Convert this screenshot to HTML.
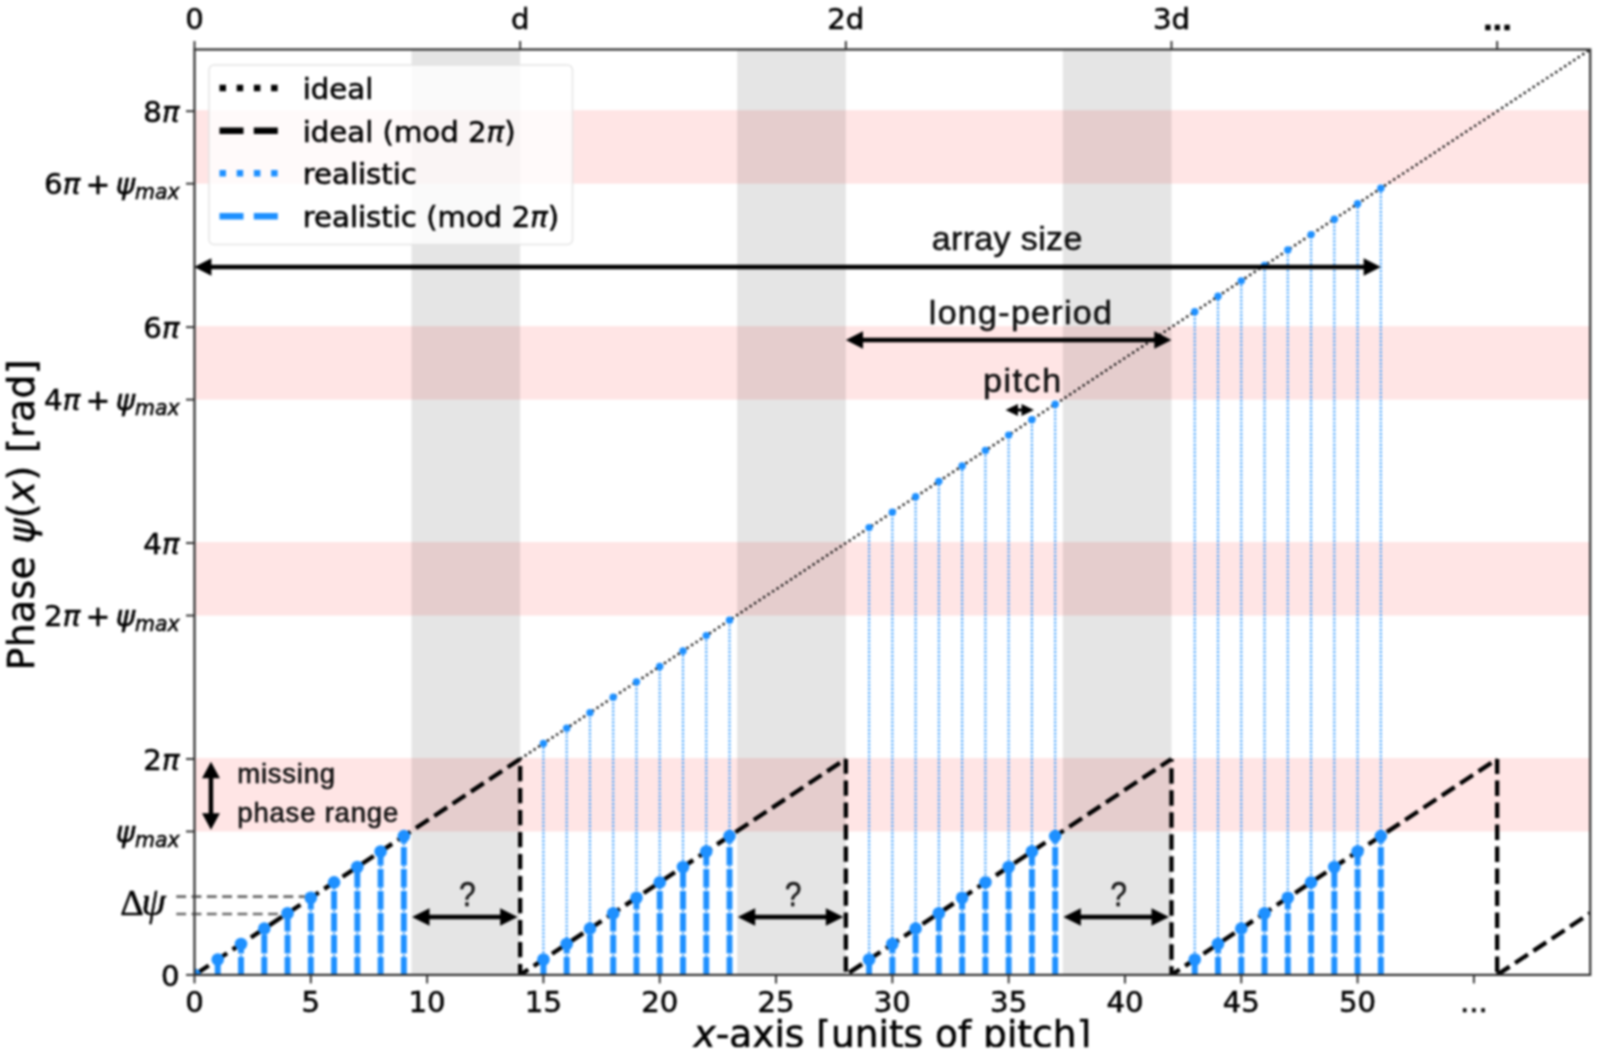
<!DOCTYPE html>
<html lang="en"><head><meta charset="utf-8"><title>Phase profile</title>
<style>html,body{margin:0;padding:0;background:#fff}body{width:1600px;height:1055px;overflow:hidden}svg{display:block;filter:blur(0.8px)}.dv{font-family:"DejaVu Sans","Liberation Sans",sans-serif;stroke:#000;stroke-width:0.55px;fill:#000}.it{font-style:italic}.cal{font-family:"Liberation Sans","DejaVu Sans",sans-serif;stroke:#000;stroke-width:0.5px}.ser{font-family:"DejaVu Serif","Liberation Serif",serif}.lser{font-family:"Liberation Serif","DejaVu Serif",serif;stroke:#000;stroke-width:0.5px;fill:#000}</style></head><body>
<svg width="1600" height="1055" viewBox="0 0 1600 1055">
<rect x="0" y="0" width="1600" height="1055" fill="#fff"/>
<defs><clipPath id="ax"><rect x="194.5" y="49.5" width="1395.7" height="925.4"/></clipPath></defs>
<g clip-path="url(#ax)">
<rect x="194.5" y="757.97" width="1395.70" height="73.49" fill="#ff0000" fill-opacity="0.1"/>
<rect x="194.5" y="542.05" width="1395.70" height="73.49" fill="#ff0000" fill-opacity="0.1"/>
<rect x="194.5" y="326.12" width="1395.70" height="73.49" fill="#ff0000" fill-opacity="0.1"/>
<rect x="194.5" y="110.19" width="1395.70" height="73.49" fill="#ff0000" fill-opacity="0.1"/>
<rect x="411.53" y="49.5" width="108.63" height="925.40" fill="#000" fill-opacity="0.1"/>
<rect x="737.19" y="49.5" width="108.63" height="925.40" fill="#000" fill-opacity="0.1"/>
<rect x="1062.86" y="49.5" width="108.63" height="925.40" fill="#000" fill-opacity="0.1"/>
<line x1="520.16" y1="758.97" x2="1590.20" y2="49.50" stroke="#000" stroke-opacity="1" stroke-width="2.4" stroke-dasharray="2.2 3.2"/>
<line x1="217.76" y1="974.90" x2="217.76" y2="959.48" stroke="#1E90FF" stroke-opacity="1" stroke-width="2.2" stroke-dasharray="1.7 2.0"/>
<line x1="241.02" y1="974.90" x2="241.02" y2="944.05" stroke="#1E90FF" stroke-opacity="1" stroke-width="2.2" stroke-dasharray="1.7 2.0"/>
<line x1="264.28" y1="974.90" x2="264.28" y2="928.63" stroke="#1E90FF" stroke-opacity="1" stroke-width="2.2" stroke-dasharray="1.7 2.0"/>
<line x1="287.55" y1="974.90" x2="287.55" y2="913.21" stroke="#1E90FF" stroke-opacity="1" stroke-width="2.2" stroke-dasharray="1.7 2.0"/>
<line x1="310.81" y1="974.90" x2="310.81" y2="897.78" stroke="#1E90FF" stroke-opacity="1" stroke-width="2.2" stroke-dasharray="1.7 2.0"/>
<line x1="334.07" y1="974.90" x2="334.07" y2="882.36" stroke="#1E90FF" stroke-opacity="1" stroke-width="2.2" stroke-dasharray="1.7 2.0"/>
<line x1="357.33" y1="974.90" x2="357.33" y2="866.94" stroke="#1E90FF" stroke-opacity="1" stroke-width="2.2" stroke-dasharray="1.7 2.0"/>
<line x1="380.59" y1="974.90" x2="380.59" y2="851.51" stroke="#1E90FF" stroke-opacity="1" stroke-width="2.2" stroke-dasharray="1.7 2.0"/>
<line x1="403.86" y1="974.90" x2="403.86" y2="836.09" stroke="#1E90FF" stroke-opacity="1" stroke-width="2.2" stroke-dasharray="1.7 2.0"/>
<line x1="543.42" y1="974.90" x2="543.42" y2="743.55" stroke="#1E90FF" stroke-opacity="1" stroke-width="2.2" stroke-dasharray="1.7 2.0"/>
<line x1="566.69" y1="974.90" x2="566.69" y2="728.13" stroke="#1E90FF" stroke-opacity="1" stroke-width="2.2" stroke-dasharray="1.7 2.0"/>
<line x1="589.95" y1="974.90" x2="589.95" y2="712.70" stroke="#1E90FF" stroke-opacity="1" stroke-width="2.2" stroke-dasharray="1.7 2.0"/>
<line x1="613.21" y1="974.90" x2="613.21" y2="697.28" stroke="#1E90FF" stroke-opacity="1" stroke-width="2.2" stroke-dasharray="1.7 2.0"/>
<line x1="636.47" y1="974.90" x2="636.47" y2="681.86" stroke="#1E90FF" stroke-opacity="1" stroke-width="2.2" stroke-dasharray="1.7 2.0"/>
<line x1="659.73" y1="974.90" x2="659.73" y2="666.43" stroke="#1E90FF" stroke-opacity="1" stroke-width="2.2" stroke-dasharray="1.7 2.0"/>
<line x1="683.00" y1="974.90" x2="683.00" y2="651.01" stroke="#1E90FF" stroke-opacity="1" stroke-width="2.2" stroke-dasharray="1.7 2.0"/>
<line x1="706.26" y1="974.90" x2="706.26" y2="635.59" stroke="#1E90FF" stroke-opacity="1" stroke-width="2.2" stroke-dasharray="1.7 2.0"/>
<line x1="729.52" y1="974.90" x2="729.52" y2="620.16" stroke="#1E90FF" stroke-opacity="1" stroke-width="2.2" stroke-dasharray="1.7 2.0"/>
<line x1="869.09" y1="974.90" x2="869.09" y2="527.62" stroke="#1E90FF" stroke-opacity="1" stroke-width="2.2" stroke-dasharray="1.7 2.0"/>
<line x1="892.35" y1="974.90" x2="892.35" y2="512.20" stroke="#1E90FF" stroke-opacity="1" stroke-width="2.2" stroke-dasharray="1.7 2.0"/>
<line x1="915.61" y1="974.90" x2="915.61" y2="496.78" stroke="#1E90FF" stroke-opacity="1" stroke-width="2.2" stroke-dasharray="1.7 2.0"/>
<line x1="938.87" y1="974.90" x2="938.87" y2="481.35" stroke="#1E90FF" stroke-opacity="1" stroke-width="2.2" stroke-dasharray="1.7 2.0"/>
<line x1="962.13" y1="974.90" x2="962.13" y2="465.93" stroke="#1E90FF" stroke-opacity="1" stroke-width="2.2" stroke-dasharray="1.7 2.0"/>
<line x1="985.40" y1="974.90" x2="985.40" y2="450.51" stroke="#1E90FF" stroke-opacity="1" stroke-width="2.2" stroke-dasharray="1.7 2.0"/>
<line x1="1008.66" y1="974.90" x2="1008.66" y2="435.08" stroke="#1E90FF" stroke-opacity="1" stroke-width="2.2" stroke-dasharray="1.7 2.0"/>
<line x1="1031.92" y1="974.90" x2="1031.92" y2="419.66" stroke="#1E90FF" stroke-opacity="1" stroke-width="2.2" stroke-dasharray="1.7 2.0"/>
<line x1="1055.18" y1="974.90" x2="1055.18" y2="404.24" stroke="#1E90FF" stroke-opacity="1" stroke-width="2.2" stroke-dasharray="1.7 2.0"/>
<line x1="1194.75" y1="974.90" x2="1194.75" y2="311.70" stroke="#1E90FF" stroke-opacity="1" stroke-width="2.2" stroke-dasharray="1.7 2.0"/>
<line x1="1218.01" y1="974.90" x2="1218.01" y2="296.27" stroke="#1E90FF" stroke-opacity="1" stroke-width="2.2" stroke-dasharray="1.7 2.0"/>
<line x1="1241.28" y1="974.90" x2="1241.28" y2="280.85" stroke="#1E90FF" stroke-opacity="1" stroke-width="2.2" stroke-dasharray="1.7 2.0"/>
<line x1="1264.54" y1="974.90" x2="1264.54" y2="265.43" stroke="#1E90FF" stroke-opacity="1" stroke-width="2.2" stroke-dasharray="1.7 2.0"/>
<line x1="1287.80" y1="974.90" x2="1287.80" y2="250.00" stroke="#1E90FF" stroke-opacity="1" stroke-width="2.2" stroke-dasharray="1.7 2.0"/>
<line x1="1311.06" y1="974.90" x2="1311.06" y2="234.58" stroke="#1E90FF" stroke-opacity="1" stroke-width="2.2" stroke-dasharray="1.7 2.0"/>
<line x1="1334.32" y1="974.90" x2="1334.32" y2="219.16" stroke="#1E90FF" stroke-opacity="1" stroke-width="2.2" stroke-dasharray="1.7 2.0"/>
<line x1="1357.58" y1="974.90" x2="1357.58" y2="203.73" stroke="#1E90FF" stroke-opacity="1" stroke-width="2.2" stroke-dasharray="1.7 2.0"/>
<line x1="1380.85" y1="974.90" x2="1380.85" y2="188.31" stroke="#1E90FF" stroke-opacity="1" stroke-width="2.2" stroke-dasharray="1.7 2.0"/>
<line x1="194.50" y1="974.90" x2="520.16" y2="758.97" stroke="#000" stroke-width="4.3" stroke-dasharray="15.4 6.6" stroke-dashoffset="20.32"/>
<line x1="520.16" y1="758.97" x2="520.16" y2="974.90" stroke="#000" stroke-width="4.3" stroke-dasharray="15.4 6.6" stroke-dashoffset="15.07"/>
<line x1="520.16" y1="974.90" x2="845.83" y2="758.97" stroke="#000" stroke-width="4.3" stroke-dasharray="15.4 6.6" stroke-dashoffset="5.75"/>
<line x1="845.83" y1="758.97" x2="845.83" y2="974.90" stroke="#000" stroke-width="4.3" stroke-dasharray="15.4 6.6" stroke-dashoffset="0.5"/>
<line x1="845.83" y1="974.90" x2="1171.49" y2="758.97" stroke="#000" stroke-width="4.3" stroke-dasharray="15.4 6.6" stroke-dashoffset="17.95"/>
<line x1="1171.49" y1="758.97" x2="1171.49" y2="974.90" stroke="#000" stroke-width="4.3" stroke-dasharray="15.4 6.6" stroke-dashoffset="12.7"/>
<line x1="1171.49" y1="974.90" x2="1497.15" y2="758.97" stroke="#000" stroke-width="4.3" stroke-dasharray="15.4 6.6" stroke-dashoffset="5.65"/>
<line x1="1497.15" y1="758.97" x2="1497.15" y2="974.90" stroke="#000" stroke-width="4.3" stroke-dasharray="15.4 6.6" stroke-dashoffset="0.4"/>
<line x1="1497.15" y1="974.90" x2="1590.20" y2="913.21" stroke="#000" stroke-width="4.3" stroke-dasharray="15.4 6.6" stroke-dashoffset="0.5"/>
<line x1="217.76" y1="974.90" x2="217.76" y2="959.48" stroke="#1E90FF" stroke-width="5.9" stroke-dasharray="18.4 3.6" stroke-dashoffset="0.6"/>
<line x1="241.02" y1="974.90" x2="241.02" y2="944.05" stroke="#1E90FF" stroke-width="5.9" stroke-dasharray="18.4 3.6" stroke-dashoffset="0.6"/>
<line x1="264.28" y1="974.90" x2="264.28" y2="928.63" stroke="#1E90FF" stroke-width="5.9" stroke-dasharray="18.4 3.6" stroke-dashoffset="0.6"/>
<line x1="287.55" y1="974.90" x2="287.55" y2="913.21" stroke="#1E90FF" stroke-width="5.9" stroke-dasharray="18.4 3.6" stroke-dashoffset="0.6"/>
<line x1="310.81" y1="974.90" x2="310.81" y2="897.78" stroke="#1E90FF" stroke-width="5.9" stroke-dasharray="18.4 3.6" stroke-dashoffset="0.6"/>
<line x1="334.07" y1="974.90" x2="334.07" y2="882.36" stroke="#1E90FF" stroke-width="5.9" stroke-dasharray="18.4 3.6" stroke-dashoffset="0.6"/>
<line x1="357.33" y1="974.90" x2="357.33" y2="866.94" stroke="#1E90FF" stroke-width="5.9" stroke-dasharray="18.4 3.6" stroke-dashoffset="0.6"/>
<line x1="380.59" y1="974.90" x2="380.59" y2="851.51" stroke="#1E90FF" stroke-width="5.9" stroke-dasharray="18.4 3.6" stroke-dashoffset="0.6"/>
<line x1="403.86" y1="974.90" x2="403.86" y2="836.09" stroke="#1E90FF" stroke-width="5.9" stroke-dasharray="18.4 3.6" stroke-dashoffset="0.6"/>
<line x1="543.42" y1="974.90" x2="543.42" y2="959.48" stroke="#1E90FF" stroke-width="5.9" stroke-dasharray="18.4 3.6" stroke-dashoffset="0.6"/>
<line x1="566.69" y1="974.90" x2="566.69" y2="944.05" stroke="#1E90FF" stroke-width="5.9" stroke-dasharray="18.4 3.6" stroke-dashoffset="0.6"/>
<line x1="589.95" y1="974.90" x2="589.95" y2="928.63" stroke="#1E90FF" stroke-width="5.9" stroke-dasharray="18.4 3.6" stroke-dashoffset="0.6"/>
<line x1="613.21" y1="974.90" x2="613.21" y2="913.21" stroke="#1E90FF" stroke-width="5.9" stroke-dasharray="18.4 3.6" stroke-dashoffset="0.6"/>
<line x1="636.47" y1="974.90" x2="636.47" y2="897.78" stroke="#1E90FF" stroke-width="5.9" stroke-dasharray="18.4 3.6" stroke-dashoffset="0.6"/>
<line x1="659.73" y1="974.90" x2="659.73" y2="882.36" stroke="#1E90FF" stroke-width="5.9" stroke-dasharray="18.4 3.6" stroke-dashoffset="0.6"/>
<line x1="683.00" y1="974.90" x2="683.00" y2="866.94" stroke="#1E90FF" stroke-width="5.9" stroke-dasharray="18.4 3.6" stroke-dashoffset="0.6"/>
<line x1="706.26" y1="974.90" x2="706.26" y2="851.51" stroke="#1E90FF" stroke-width="5.9" stroke-dasharray="18.4 3.6" stroke-dashoffset="0.6"/>
<line x1="729.52" y1="974.90" x2="729.52" y2="836.09" stroke="#1E90FF" stroke-width="5.9" stroke-dasharray="18.4 3.6" stroke-dashoffset="0.6"/>
<line x1="869.09" y1="974.90" x2="869.09" y2="959.48" stroke="#1E90FF" stroke-width="5.9" stroke-dasharray="18.4 3.6" stroke-dashoffset="0.6"/>
<line x1="892.35" y1="974.90" x2="892.35" y2="944.05" stroke="#1E90FF" stroke-width="5.9" stroke-dasharray="18.4 3.6" stroke-dashoffset="0.6"/>
<line x1="915.61" y1="974.90" x2="915.61" y2="928.63" stroke="#1E90FF" stroke-width="5.9" stroke-dasharray="18.4 3.6" stroke-dashoffset="0.6"/>
<line x1="938.87" y1="974.90" x2="938.87" y2="913.21" stroke="#1E90FF" stroke-width="5.9" stroke-dasharray="18.4 3.6" stroke-dashoffset="0.6"/>
<line x1="962.13" y1="974.90" x2="962.13" y2="897.78" stroke="#1E90FF" stroke-width="5.9" stroke-dasharray="18.4 3.6" stroke-dashoffset="0.6"/>
<line x1="985.40" y1="974.90" x2="985.40" y2="882.36" stroke="#1E90FF" stroke-width="5.9" stroke-dasharray="18.4 3.6" stroke-dashoffset="0.6"/>
<line x1="1008.66" y1="974.90" x2="1008.66" y2="866.94" stroke="#1E90FF" stroke-width="5.9" stroke-dasharray="18.4 3.6" stroke-dashoffset="0.6"/>
<line x1="1031.92" y1="974.90" x2="1031.92" y2="851.51" stroke="#1E90FF" stroke-width="5.9" stroke-dasharray="18.4 3.6" stroke-dashoffset="0.6"/>
<line x1="1055.18" y1="974.90" x2="1055.18" y2="836.09" stroke="#1E90FF" stroke-width="5.9" stroke-dasharray="18.4 3.6" stroke-dashoffset="0.6"/>
<line x1="1194.75" y1="974.90" x2="1194.75" y2="959.48" stroke="#1E90FF" stroke-width="5.9" stroke-dasharray="18.4 3.6" stroke-dashoffset="0.6"/>
<line x1="1218.01" y1="974.90" x2="1218.01" y2="944.05" stroke="#1E90FF" stroke-width="5.9" stroke-dasharray="18.4 3.6" stroke-dashoffset="0.6"/>
<line x1="1241.28" y1="974.90" x2="1241.28" y2="928.63" stroke="#1E90FF" stroke-width="5.9" stroke-dasharray="18.4 3.6" stroke-dashoffset="0.6"/>
<line x1="1264.54" y1="974.90" x2="1264.54" y2="913.21" stroke="#1E90FF" stroke-width="5.9" stroke-dasharray="18.4 3.6" stroke-dashoffset="0.6"/>
<line x1="1287.80" y1="974.90" x2="1287.80" y2="897.78" stroke="#1E90FF" stroke-width="5.9" stroke-dasharray="18.4 3.6" stroke-dashoffset="0.6"/>
<line x1="1311.06" y1="974.90" x2="1311.06" y2="882.36" stroke="#1E90FF" stroke-width="5.9" stroke-dasharray="18.4 3.6" stroke-dashoffset="0.6"/>
<line x1="1334.32" y1="974.90" x2="1334.32" y2="866.94" stroke="#1E90FF" stroke-width="5.9" stroke-dasharray="18.4 3.6" stroke-dashoffset="0.6"/>
<line x1="1357.58" y1="974.90" x2="1357.58" y2="851.51" stroke="#1E90FF" stroke-width="5.9" stroke-dasharray="18.4 3.6" stroke-dashoffset="0.6"/>
<line x1="1380.85" y1="974.90" x2="1380.85" y2="836.09" stroke="#1E90FF" stroke-width="5.9" stroke-dasharray="18.4 3.6" stroke-dashoffset="0.6"/>
<circle cx="217.76" cy="959.48" r="3.7" fill="#1E90FF"/>
<circle cx="241.02" cy="944.05" r="3.7" fill="#1E90FF"/>
<circle cx="264.28" cy="928.63" r="3.7" fill="#1E90FF"/>
<circle cx="287.55" cy="913.21" r="3.7" fill="#1E90FF"/>
<circle cx="310.81" cy="897.78" r="3.7" fill="#1E90FF"/>
<circle cx="334.07" cy="882.36" r="3.7" fill="#1E90FF"/>
<circle cx="357.33" cy="866.94" r="3.7" fill="#1E90FF"/>
<circle cx="380.59" cy="851.51" r="3.7" fill="#1E90FF"/>
<circle cx="403.86" cy="836.09" r="3.7" fill="#1E90FF"/>
<circle cx="543.42" cy="743.55" r="3.7" fill="#1E90FF"/>
<circle cx="566.69" cy="728.13" r="3.7" fill="#1E90FF"/>
<circle cx="589.95" cy="712.70" r="3.7" fill="#1E90FF"/>
<circle cx="613.21" cy="697.28" r="3.7" fill="#1E90FF"/>
<circle cx="636.47" cy="681.86" r="3.7" fill="#1E90FF"/>
<circle cx="659.73" cy="666.43" r="3.7" fill="#1E90FF"/>
<circle cx="683.00" cy="651.01" r="3.7" fill="#1E90FF"/>
<circle cx="706.26" cy="635.59" r="3.7" fill="#1E90FF"/>
<circle cx="729.52" cy="620.16" r="3.7" fill="#1E90FF"/>
<circle cx="869.09" cy="527.62" r="3.7" fill="#1E90FF"/>
<circle cx="892.35" cy="512.20" r="3.7" fill="#1E90FF"/>
<circle cx="915.61" cy="496.78" r="3.7" fill="#1E90FF"/>
<circle cx="938.87" cy="481.35" r="3.7" fill="#1E90FF"/>
<circle cx="962.13" cy="465.93" r="3.7" fill="#1E90FF"/>
<circle cx="985.40" cy="450.51" r="3.7" fill="#1E90FF"/>
<circle cx="1008.66" cy="435.08" r="3.7" fill="#1E90FF"/>
<circle cx="1031.92" cy="419.66" r="3.7" fill="#1E90FF"/>
<circle cx="1055.18" cy="404.24" r="3.7" fill="#1E90FF"/>
<circle cx="1194.75" cy="311.70" r="3.7" fill="#1E90FF"/>
<circle cx="1218.01" cy="296.27" r="3.7" fill="#1E90FF"/>
<circle cx="1241.28" cy="280.85" r="3.7" fill="#1E90FF"/>
<circle cx="1264.54" cy="265.43" r="3.7" fill="#1E90FF"/>
<circle cx="1287.80" cy="250.00" r="3.7" fill="#1E90FF"/>
<circle cx="1311.06" cy="234.58" r="3.7" fill="#1E90FF"/>
<circle cx="1334.32" cy="219.16" r="3.7" fill="#1E90FF"/>
<circle cx="1357.58" cy="203.73" r="3.7" fill="#1E90FF"/>
<circle cx="1380.85" cy="188.31" r="3.7" fill="#1E90FF"/>
<circle cx="194.50" cy="974.90" r="6.3" fill="#1E90FF"/>
<circle cx="217.76" cy="959.48" r="6.3" fill="#1E90FF"/>
<circle cx="241.02" cy="944.05" r="6.3" fill="#1E90FF"/>
<circle cx="264.28" cy="928.63" r="6.3" fill="#1E90FF"/>
<circle cx="287.55" cy="913.21" r="6.3" fill="#1E90FF"/>
<circle cx="310.81" cy="897.78" r="6.3" fill="#1E90FF"/>
<circle cx="334.07" cy="882.36" r="6.3" fill="#1E90FF"/>
<circle cx="357.33" cy="866.94" r="6.3" fill="#1E90FF"/>
<circle cx="380.59" cy="851.51" r="6.3" fill="#1E90FF"/>
<circle cx="403.86" cy="836.09" r="6.3" fill="#1E90FF"/>
<circle cx="543.42" cy="959.48" r="6.3" fill="#1E90FF"/>
<circle cx="566.69" cy="944.05" r="6.3" fill="#1E90FF"/>
<circle cx="589.95" cy="928.63" r="6.3" fill="#1E90FF"/>
<circle cx="613.21" cy="913.21" r="6.3" fill="#1E90FF"/>
<circle cx="636.47" cy="897.78" r="6.3" fill="#1E90FF"/>
<circle cx="659.73" cy="882.36" r="6.3" fill="#1E90FF"/>
<circle cx="683.00" cy="866.94" r="6.3" fill="#1E90FF"/>
<circle cx="706.26" cy="851.51" r="6.3" fill="#1E90FF"/>
<circle cx="729.52" cy="836.09" r="6.3" fill="#1E90FF"/>
<circle cx="869.09" cy="959.48" r="6.3" fill="#1E90FF"/>
<circle cx="892.35" cy="944.05" r="6.3" fill="#1E90FF"/>
<circle cx="915.61" cy="928.63" r="6.3" fill="#1E90FF"/>
<circle cx="938.87" cy="913.21" r="6.3" fill="#1E90FF"/>
<circle cx="962.13" cy="897.78" r="6.3" fill="#1E90FF"/>
<circle cx="985.40" cy="882.36" r="6.3" fill="#1E90FF"/>
<circle cx="1008.66" cy="866.94" r="6.3" fill="#1E90FF"/>
<circle cx="1031.92" cy="851.51" r="6.3" fill="#1E90FF"/>
<circle cx="1055.18" cy="836.09" r="6.3" fill="#1E90FF"/>
<circle cx="1194.75" cy="959.48" r="6.3" fill="#1E90FF"/>
<circle cx="1218.01" cy="944.05" r="6.3" fill="#1E90FF"/>
<circle cx="1241.28" cy="928.63" r="6.3" fill="#1E90FF"/>
<circle cx="1264.54" cy="913.21" r="6.3" fill="#1E90FF"/>
<circle cx="1287.80" cy="897.78" r="6.3" fill="#1E90FF"/>
<circle cx="1311.06" cy="882.36" r="6.3" fill="#1E90FF"/>
<circle cx="1334.32" cy="866.94" r="6.3" fill="#1E90FF"/>
<circle cx="1357.58" cy="851.51" r="6.3" fill="#1E90FF"/>
<circle cx="1380.85" cy="836.09" r="6.3" fill="#1E90FF"/>
</g>
<line x1="176.3" y1="896.6" x2="304.81" y2="896.6" stroke="#6a6a6a" stroke-width="2.6" stroke-dasharray="9.8 5.5"/>
<line x1="176.3" y1="914.0" x2="281.55" y2="914.0" stroke="#6a6a6a" stroke-width="2.6" stroke-dasharray="9.8 5.5"/>
<rect x="194.5" y="49.5" width="1395.70" height="925.40" fill="none" stroke="#303030" stroke-width="2.2"/>
<line x1="194.50" y1="974.90" x2="194.50" y2="983.40" stroke="#303030" stroke-width="1.9"/>
<text class="dv" x="194.50" y="1011.5" font-size="29.2" text-anchor="middle" fill="#111">0</text>
<line x1="310.81" y1="974.90" x2="310.81" y2="983.40" stroke="#303030" stroke-width="1.9"/>
<text class="dv" x="310.81" y="1011.5" font-size="29.2" text-anchor="middle" fill="#111">5</text>
<line x1="427.12" y1="974.90" x2="427.12" y2="983.40" stroke="#303030" stroke-width="1.9"/>
<text class="dv" x="427.12" y="1011.5" font-size="29.2" text-anchor="middle" fill="#111">10</text>
<line x1="543.42" y1="974.90" x2="543.42" y2="983.40" stroke="#303030" stroke-width="1.9"/>
<text class="dv" x="543.42" y="1011.5" font-size="29.2" text-anchor="middle" fill="#111">15</text>
<line x1="659.73" y1="974.90" x2="659.73" y2="983.40" stroke="#303030" stroke-width="1.9"/>
<text class="dv" x="659.73" y="1011.5" font-size="29.2" text-anchor="middle" fill="#111">20</text>
<line x1="776.04" y1="974.90" x2="776.04" y2="983.40" stroke="#303030" stroke-width="1.9"/>
<text class="dv" x="776.04" y="1011.5" font-size="29.2" text-anchor="middle" fill="#111">25</text>
<line x1="892.35" y1="974.90" x2="892.35" y2="983.40" stroke="#303030" stroke-width="1.9"/>
<text class="dv" x="892.35" y="1011.5" font-size="29.2" text-anchor="middle" fill="#111">30</text>
<line x1="1008.66" y1="974.90" x2="1008.66" y2="983.40" stroke="#303030" stroke-width="1.9"/>
<text class="dv" x="1008.66" y="1011.5" font-size="29.2" text-anchor="middle" fill="#111">35</text>
<line x1="1124.97" y1="974.90" x2="1124.97" y2="983.40" stroke="#303030" stroke-width="1.9"/>
<text class="dv" x="1124.97" y="1011.5" font-size="29.2" text-anchor="middle" fill="#111">40</text>
<line x1="1241.28" y1="974.90" x2="1241.28" y2="983.40" stroke="#303030" stroke-width="1.9"/>
<text class="dv" x="1241.28" y="1011.5" font-size="29.2" text-anchor="middle" fill="#111">45</text>
<line x1="1357.58" y1="974.90" x2="1357.58" y2="983.40" stroke="#303030" stroke-width="1.9"/>
<text class="dv" x="1357.58" y="1011.5" font-size="29.2" text-anchor="middle" fill="#111">50</text>
<line x1="1473.89" y1="974.90" x2="1473.89" y2="983.40" stroke="#303030" stroke-width="1.9"/>
<text class="dv" x="1473.89" y="1011.5" font-size="29.2" text-anchor="middle" fill="#111">...</text>
<line x1="194.50" y1="49.50" x2="194.50" y2="41.00" stroke="#303030" stroke-width="1.9"/>
<text class="dv" x="194.50" y="28.5" font-size="29.2" text-anchor="middle" fill="#111">0</text>
<line x1="520.16" y1="49.50" x2="520.16" y2="41.00" stroke="#303030" stroke-width="1.9"/>
<text class="dv" x="520.16" y="28.5" font-size="29.2" text-anchor="middle" fill="#111">d</text>
<line x1="845.83" y1="49.50" x2="845.83" y2="41.00" stroke="#303030" stroke-width="1.9"/>
<text class="dv" x="845.83" y="28.5" font-size="29.2" text-anchor="middle" fill="#111">2d</text>
<line x1="1171.49" y1="49.50" x2="1171.49" y2="41.00" stroke="#303030" stroke-width="1.9"/>
<text class="dv" x="1171.49" y="28.5" font-size="29.2" text-anchor="middle" fill="#111">3d</text>
<line x1="1497.15" y1="49.50" x2="1497.15" y2="41.00" stroke="#303030" stroke-width="1.9"/>
<text class="dv" x="1497.15" y="30" font-size="27" font-weight="bold" letter-spacing="-0.6" text-anchor="middle" fill="#111">...</text>
<line x1="194.50" y1="974.90" x2="186.00" y2="974.90" stroke="#303030" stroke-width="1.9"/>
<text class="dv" x="179.5" y="985.50" font-size="29.2" text-anchor="end" fill="#111">0</text>
<line x1="194.50" y1="831.46" x2="186.00" y2="831.46" stroke="#303030" stroke-width="1.9"/>
<text class="dv" x="179.5" y="842.06" font-size="29.2" text-anchor="end" fill="#111"><tspan class="it">ψ</tspan><tspan class="it" font-size="20.44" dy="4.5">max</tspan></text>
<line x1="194.50" y1="758.97" x2="186.00" y2="758.97" stroke="#303030" stroke-width="1.9"/>
<text class="dv" x="179.5" y="769.57" font-size="29.2" text-anchor="end" fill="#111">2<tspan class="it">π</tspan></text>
<line x1="194.50" y1="615.54" x2="186.00" y2="615.54" stroke="#303030" stroke-width="1.9"/>
<text class="dv" x="179.5" y="626.14" font-size="29.2" text-anchor="end" fill="#111">2<tspan class="it">π</tspan><tspan dx="5.5">+</tspan><tspan dx="5.5" class="it">ψ</tspan><tspan class="it" font-size="20.44" dy="4.5">max</tspan></text>
<line x1="194.50" y1="543.05" x2="186.00" y2="543.05" stroke="#303030" stroke-width="1.9"/>
<text class="dv" x="179.5" y="553.65" font-size="29.2" text-anchor="end" fill="#111">4<tspan class="it">π</tspan></text>
<line x1="194.50" y1="399.61" x2="186.00" y2="399.61" stroke="#303030" stroke-width="1.9"/>
<text class="dv" x="179.5" y="410.21" font-size="29.2" text-anchor="end" fill="#111">4<tspan class="it">π</tspan><tspan dx="5.5">+</tspan><tspan dx="5.5" class="it">ψ</tspan><tspan class="it" font-size="20.44" dy="4.5">max</tspan></text>
<line x1="194.50" y1="327.12" x2="186.00" y2="327.12" stroke="#303030" stroke-width="1.9"/>
<text class="dv" x="179.5" y="337.72" font-size="29.2" text-anchor="end" fill="#111">6<tspan class="it">π</tspan></text>
<line x1="194.50" y1="183.68" x2="186.00" y2="183.68" stroke="#303030" stroke-width="1.9"/>
<text class="dv" x="179.5" y="194.28" font-size="29.2" text-anchor="end" fill="#111">6<tspan class="it">π</tspan><tspan dx="5.5">+</tspan><tspan dx="5.5" class="it">ψ</tspan><tspan class="it" font-size="20.44" dy="4.5">max</tspan></text>
<line x1="194.50" y1="111.19" x2="186.00" y2="111.19" stroke="#303030" stroke-width="1.9"/>
<text class="dv" x="179.5" y="121.79" font-size="29.2" text-anchor="end" fill="#111">8<tspan class="it">π</tspan></text>
<text class="dv" x="892.3" y="1046.5" font-size="37.5" text-anchor="middle" fill="#111"><tspan class="it">x</tspan>-axis [units of pitch]</text>
<text class="dv" transform="translate(33.7,514.8) rotate(-90)" font-size="37.6" letter-spacing="0.45" text-anchor="middle" fill="#111">Phase <tspan class="it">ψ</tspan>(<tspan class="it">x</tspan>) [rad]</text>
<rect x="209" y="65" width="363.5" height="179.5" rx="5" ry="5" fill="#fff" fill-opacity="0.8" stroke="#e2e2e2" stroke-opacity="0.9" stroke-width="1.5"/>
<line x1="219.5" y1="88" x2="278.5" y2="88" stroke="#000" stroke-width="6.5" stroke-dasharray="6.5 10.7"/>
<text class="dv" x="302.7" y="98.80" font-size="29.2" fill="#111">ideal</text>
<line x1="219.5" y1="130.75" x2="278.5" y2="130.75" stroke="#000" stroke-width="6.5" stroke-dasharray="24 10.3"/>
<text class="dv" x="302.7" y="141.55" font-size="29.2" fill="#111">ideal (mod 2<tspan class="it">π</tspan>)</text>
<line x1="219.5" y1="173.3" x2="278.5" y2="173.3" stroke="#1E90FF" stroke-width="6.5" stroke-dasharray="6.5 10.7"/>
<text class="dv" x="302.7" y="184.10" font-size="29.2" fill="#111">realistic</text>
<line x1="219.5" y1="216.25" x2="278.5" y2="216.25" stroke="#1E90FF" stroke-width="6.5" stroke-dasharray="24 10.3"/>
<text class="dv" x="302.7" y="227.05" font-size="29.2" fill="#111">realistic (mod 2<tspan class="it">π</tspan>)</text>
<line x1="207.96" y1="267" x2="1367.09" y2="267" stroke="#000" stroke-width="4.5"/>
<path d="M194.20 267 l17.2 -8.8 v17.6 z M1380.85 267 l-17.2 -8.8 v17.6 z" fill="#000"/>
<line x1="859.59" y1="340" x2="1157.73" y2="340" stroke="#000" stroke-width="4.5"/>
<path d="M845.83 340 l17.2 -8.8 v17.6 z M1171.49 340 l-17.2 -8.8 v17.6 z" fill="#000"/>
<line x1="1015.50" y1="410" x2="1024.00" y2="410" stroke="#000" stroke-width="3.0"/>
<path d="M1005.50 410 l12.5 -6.0 v12 z M1034.00 410 l-12.5 -6.0 v12 z" fill="#000"/>
<line x1="210.95" y1="774.90" x2="210.95" y2="816.60" stroke="#000" stroke-width="4.5"/>
<path d="M210.95 761.70 l-8.95 16.5 h17.9 z M210.95 829.80 l-8.95 -16.5 h17.9 z" fill="#000"/>
<line x1="426.03" y1="917" x2="503.66" y2="917" stroke="#000" stroke-width="4.3"/>
<path d="M412.03 917 l17.5 -8.75 v17.5 z M517.66 917 l-17.5 -8.75 v17.5 z" fill="#000"/>
<text class="cal" transform="translate(467.36,906) scale(0.85,1)" font-size="34.5" text-anchor="middle" fill="#1a1a1a">?</text>
<line x1="751.69" y1="917" x2="829.33" y2="917" stroke="#000" stroke-width="4.3"/>
<path d="M737.69 917 l17.5 -8.75 v17.5 z M843.33 917 l-17.5 -8.75 v17.5 z" fill="#000"/>
<text class="cal" transform="translate(793.03,906) scale(0.85,1)" font-size="34.5" text-anchor="middle" fill="#1a1a1a">?</text>
<line x1="1077.36" y1="917" x2="1154.99" y2="917" stroke="#000" stroke-width="4.3"/>
<path d="M1063.36 917 l17.5 -8.75 v17.5 z M1168.99 917 l-17.5 -8.75 v17.5 z" fill="#000"/>
<text class="cal" transform="translate(1118.69,906) scale(0.85,1)" font-size="34.5" text-anchor="middle" fill="#1a1a1a">?</text>
<text class="cal" x="1007.2" y="250" font-size="34" letter-spacing="0.36" text-anchor="middle" fill="#111">array size</text>
<text class="cal" x="1021" y="324" font-size="34" letter-spacing="1.3" text-anchor="middle" fill="#111">long-period</text>
<text class="cal" x="1022.8" y="391.75" font-size="34" letter-spacing="1.6" text-anchor="middle" fill="#111">pitch</text>
<text class="cal" x="237.3" y="783" font-size="27.5" letter-spacing="0.75" stroke="#111" stroke-width="0.35" fill="#111">missing</text>
<text class="cal" x="237.3" y="821.5" font-size="27.5" letter-spacing="0.8" stroke="#111" stroke-width="0.35" fill="#111">phase range</text>
<text class="lser" x="120.2" y="915.2" font-size="36.5" fill="#111">Δ<tspan class="it" dx="-2.2" font-size="39">ψ</tspan></text>
<rect x="0" y="1047.2" width="1600" height="8" fill="#fff"/>
</svg></body></html>
